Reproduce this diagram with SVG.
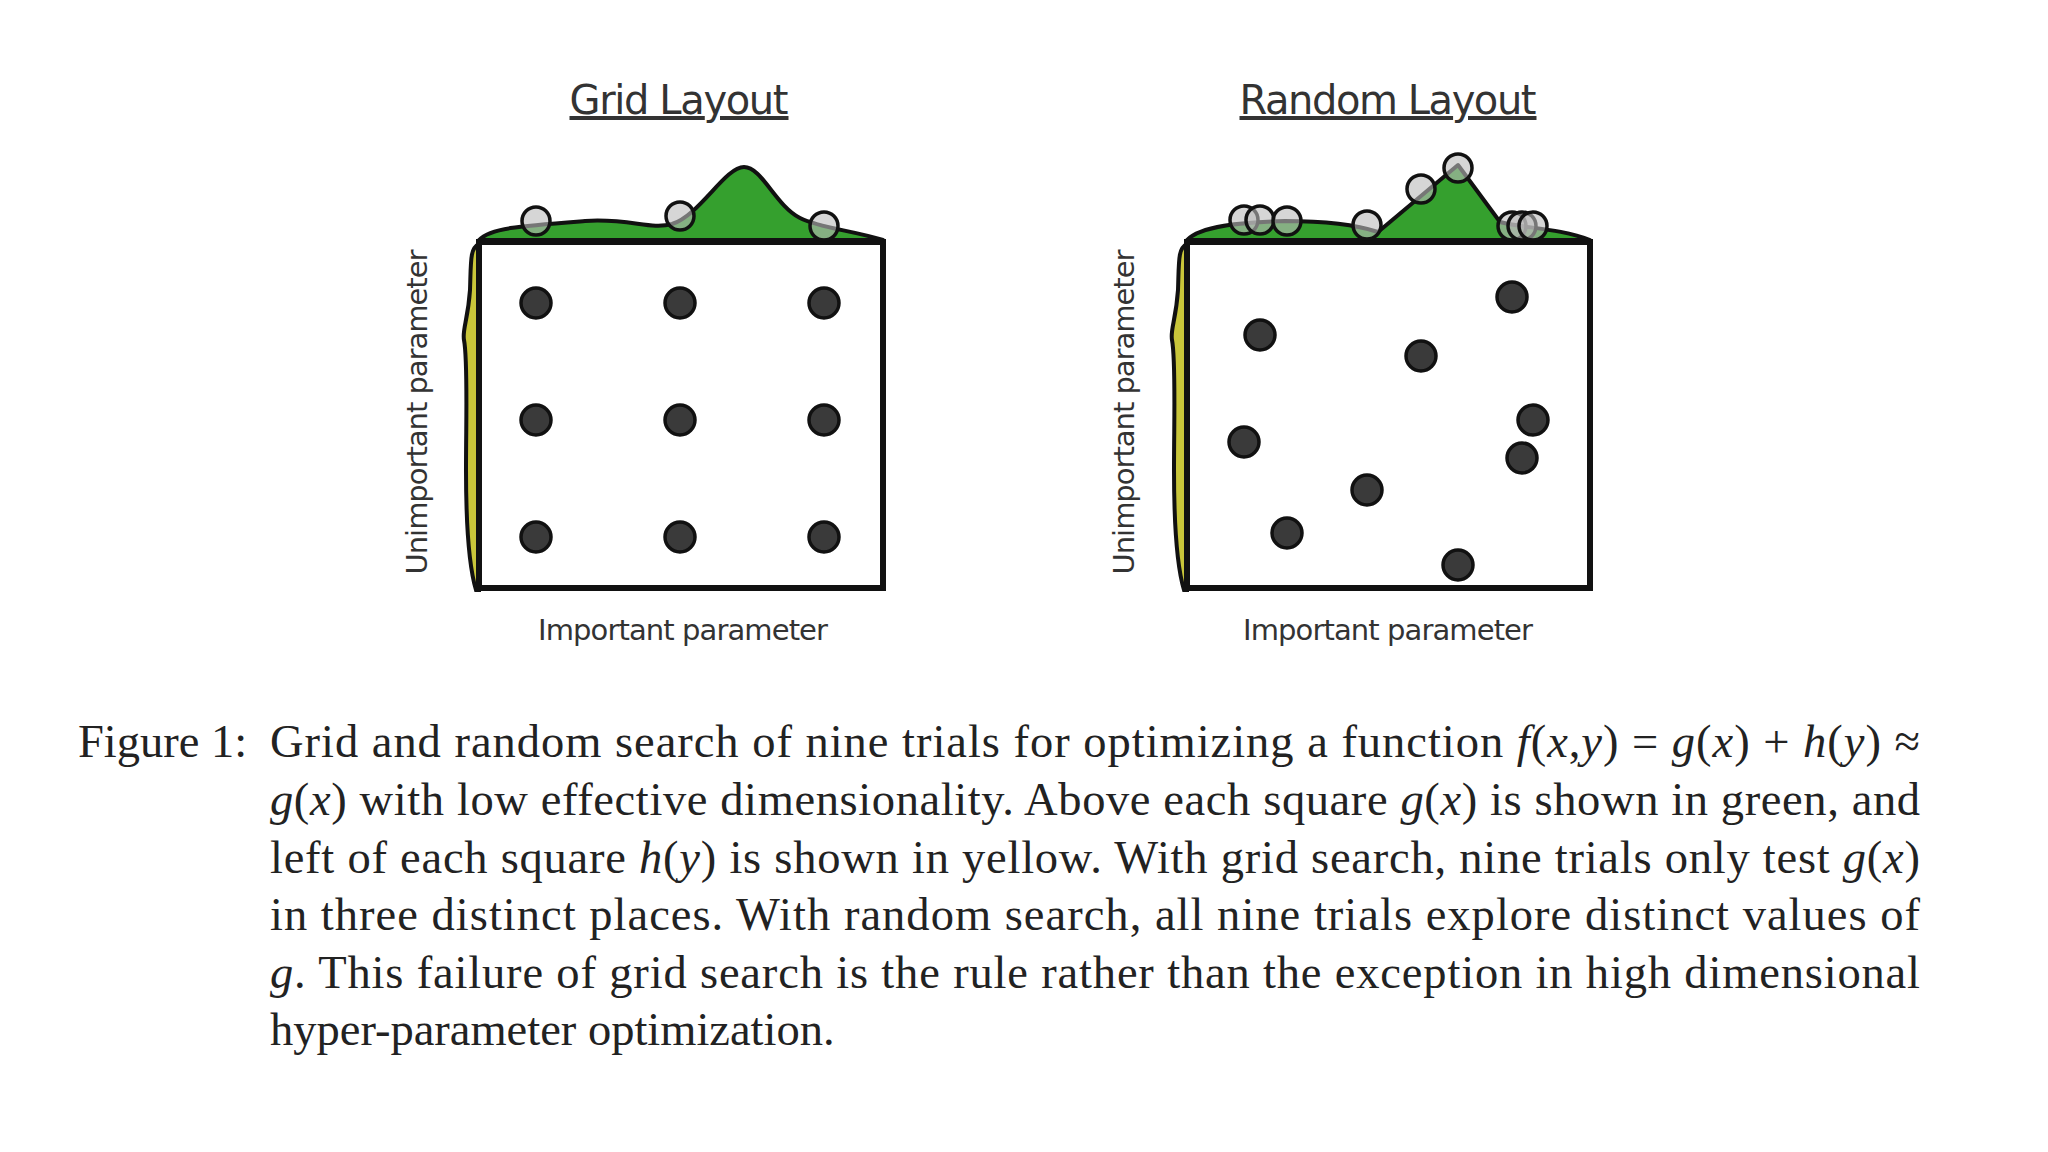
<svg xmlns="http://www.w3.org/2000/svg" width="2048" height="1152" viewBox="0 0 2048 1152">
<style>
.t{font-family:"DejaVu Sans",sans-serif;fill:#333}
.title{font-size:40px;text-decoration:underline}
.ax{font-size:29px}
.cap{font-family:"Liberation Serif","Times New Roman",serif;font-size:46.5px;fill:#222}
.i{font-style:italic}
.box{fill:#fff;stroke:#111;stroke-width:6}
.g{fill:#35a02e;stroke:#111;stroke-width:4;stroke-linejoin:round}
.y{fill:#c9c63a;stroke:#111;stroke-width:4}
.d{fill:#3a3a3a;stroke:#111;stroke-width:3.5}
.p{fill:#bbb;fill-opacity:0.6;stroke:#111;stroke-width:3.5}
</style>
<rect width="2048" height="1152" fill="#fff"/>
<g id="grid">
<text class="t title" x="679" y="114" text-anchor="middle" textLength="219">Grid Layout</text>
<path class="g" d="M479,240 C490,228 520,226 585,221 C630,218 650,230 672,224 C700,215 725,167 744,167 C762,167 775,205 800,218 C820,228 850,230 883,240 Z"/>
<path class="y" d="M479,244 C470,248 471,260 470,290 C468,320 462,330 464,340 C468,360 466,420 466,470 C466,530 470,570 476,590 L479,590 Z"/>
<rect class="box" x="479" y="242" width="404" height="346"/>
<circle class="p" cx="536" cy="221" r="14"/><circle class="p" cx="680" cy="216" r="14"/><circle class="p" cx="824" cy="226" r="14"/>
<circle class="d" cx="536" cy="303" r="15"/><circle class="d" cx="680" cy="303" r="15"/><circle class="d" cx="824" cy="303" r="15"/>
<circle class="d" cx="536" cy="420" r="15"/><circle class="d" cx="680" cy="420" r="15"/><circle class="d" cx="824" cy="420" r="15"/>
<circle class="d" cx="536" cy="537" r="15"/><circle class="d" cx="680" cy="537" r="15"/><circle class="d" cx="824" cy="537" r="15"/>
<text class="t ax" x="683" y="640" text-anchor="middle" textLength="290">Important parameter</text>
<text class="t ax" transform="translate(427,412) rotate(-90)" text-anchor="middle" textLength="325">Unimportant parameter</text>
</g>
<g id="random">
<text class="t title" x="1388" y="114" text-anchor="middle" textLength="297">Random Layout</text>
<path class="g" d="M1187,240 C1200,226 1240,222 1285,221 C1330,221 1360,226 1378,232 L1458,165 L1500,222 C1520,228 1560,228 1590,240 Z"/>
<path class="y" d="M1187,244 C1178,248 1179,260 1178,290 C1176,320 1170,330 1172,340 C1176,360 1174,420 1174,470 C1174,530 1178,570 1184,590 L1187,590 Z"/>
<rect class="box" x="1187" y="242" width="403" height="346"/>
<circle class="p" cx="1244" cy="220" r="14"/><circle class="p" cx="1260" cy="220" r="14"/><circle class="p" cx="1287" cy="221" r="14"/>
<circle class="p" cx="1367" cy="225" r="14"/><circle class="p" cx="1421" cy="189" r="14"/><circle class="p" cx="1458" cy="168" r="14"/>
<circle class="p" cx="1512" cy="226" r="14"/><circle class="p" cx="1522" cy="226" r="14"/><circle class="p" cx="1533" cy="226" r="14"/>
<circle class="d" cx="1260" cy="335" r="15"/><circle class="d" cx="1421" cy="356" r="15"/><circle class="d" cx="1512" cy="297" r="15"/>
<circle class="d" cx="1244" cy="442" r="15"/><circle class="d" cx="1533" cy="420" r="15"/><circle class="d" cx="1522" cy="458" r="15"/>
<circle class="d" cx="1367" cy="490" r="15"/><circle class="d" cx="1287" cy="533" r="15"/><circle class="d" cx="1458" cy="565" r="15"/>
<text class="t ax" x="1388" y="640" text-anchor="middle" textLength="290">Important parameter</text>
<text class="t ax" transform="translate(1134,412) rotate(-90)" text-anchor="middle" textLength="325">Unimportant parameter</text>
</g>
<g id="caption" class="cap">
<text x="78" y="757">Figure 1:</text>
<text x="270" y="757" textLength="1650" lengthAdjust="spacing">Grid and random search of nine trials for optimizing a function <tspan class="i">f</tspan>(<tspan class="i">x</tspan>,<tspan class="i">y</tspan>) = <tspan class="i">g</tspan>(<tspan class="i">x</tspan>) + <tspan class="i">h</tspan>(<tspan class="i">y</tspan>) ≈</text>
<text x="270" y="815" textLength="1650" lengthAdjust="spacing"><tspan class="i">g</tspan>(<tspan class="i">x</tspan>) with low effective dimensionality.  Above each square <tspan class="i">g</tspan>(<tspan class="i">x</tspan>) is shown in green, and</text>
<text x="270" y="873" textLength="1650" lengthAdjust="spacing">left of each square <tspan class="i">h</tspan>(<tspan class="i">y</tspan>) is shown in yellow.  With grid search, nine trials only test <tspan class="i">g</tspan>(<tspan class="i">x</tspan>)</text>
<text x="270" y="930" textLength="1650" lengthAdjust="spacing">in three distinct places.  With random search, all nine trials explore distinct values of</text>
<text x="270" y="988" textLength="1650" lengthAdjust="spacing"><tspan class="i">g</tspan>.  This failure of grid search is the rule rather than the exception in high dimensional</text>
<text x="270" y="1045">hyper-parameter optimization.</text>
</g>
</svg>
